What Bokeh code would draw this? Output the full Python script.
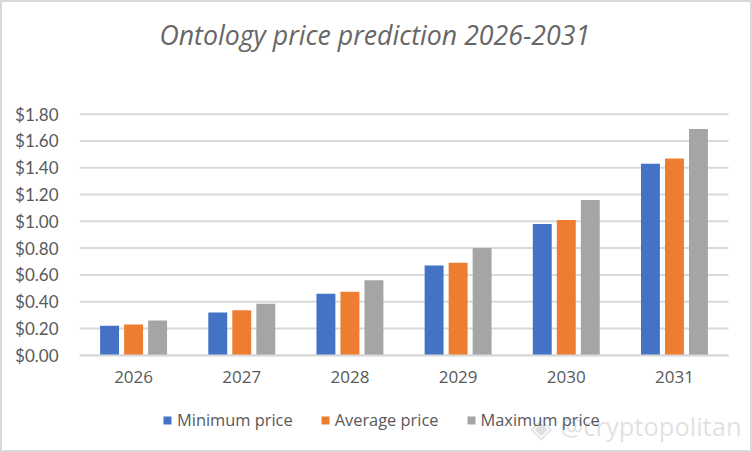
from bokeh.plotting import figure
from bokeh.models import Range1d, FixedTicker, NumeralTickFormatter, Legend, LegendItem, Label, LinearAxis
from bokeh.embed import file_html
from bokeh.resources import INLINE

years = ["2026", "2027", "2028", "2029", "2030", "2031"]
minimum_price = [0.22, 0.32, 0.46, 0.67, 0.98, 1.43]
average_price = [0.23, 0.335, 0.475, 0.69, 1.01, 1.47]
maximum_price = [0.26, 0.385, 0.56, 0.80, 1.16, 1.69]
y_ticks = [0.0, 0.2, 0.4, 0.6, 0.8, 1.0, 1.2, 1.4, 1.6, 1.8]
series_names = ["Minimum price", "Average price", "Maximum price"]
series_colors = ["#4472C4", "#ED7D31", "#A5A5A5"]
title_text = "Ontology price prediction 2026-2031"
watermark_text = "@cryptopolitan"

TEXT = "#595959"
LINE = "#D9D9D9"
positions = list(range(len(years)))

# The frame spans the chart area, so the title, legend and watermark can sit inside it.
p = figure(width=752, height=452, output_backend="svg", toolbar_location=None,
           x_range=Range1d(-0.5, 5.703), y_range=Range1d(-0.7115, 2.6343),
           x_axis_location=None,
           min_border_left=77, min_border_right=4, min_border_top=0, min_border_bottom=4,
           styles={"border": "2px solid #D9D9D9"})
p.outline_line_color = None
p.background_fill_color = "white"
p.border_fill_color = "white"
p.xgrid.visible = False
p.ygrid.visible = False

p.yaxis.ticker = FixedTicker(ticks=y_ticks)
p.yaxis.formatter = NumeralTickFormatter(format="$0.00")
p.yaxis.axis_line_color = None
p.yaxis.major_tick_line_color = None
p.yaxis.minor_tick_line_color = None
p.yaxis.major_tick_out = 0
p.yaxis.major_label_standoff = 21
p.yaxis.major_label_text_font = "Lato"
p.yaxis.major_label_text_font_size = "17px"
p.yaxis.major_label_text_color = TEXT

p.segment(x0=[-0.5] * len(y_ticks), x1=[5.5] * len(y_ticks), y0=y_ticks, y1=y_ticks,
          line_color=LINE, line_width=2)

xaxis = LinearAxis(fixed_location=0, ticker=FixedTicker(ticks=positions),
                   major_label_overrides=dict(zip(positions, years)),
                   bounds=(-0.5, 5.5), axis_line_color=LINE, axis_line_width=2,
                   major_tick_line_color=None, minor_tick_line_color=None, major_tick_out=0,
                   major_label_standoff=16, major_label_text_font="Open Sans",
                   major_label_text_font_size="17px", major_label_text_color=TEXT)
p.add_layout(xaxis, "below")

items = []
for values, off, name, color in zip((minimum_price, average_price, maximum_price),
                                    (-0.222, 0.0, 0.222), series_names, series_colors):
    r = p.vbar(x=[i + off for i in positions], top=values, width=0.175, bottom=0,
               fill_color=color, line_color=None)
    items.append(LegendItem(label=name, renderers=[r]))

legend = Legend(items=items, orientation="horizontal", location=(83, 19),
                glyph_width=10, glyph_height=10, label_standoff=5, spacing=27,
                label_text_font="Open Sans", label_text_font_size="16.4px", label_text_color=TEXT,
                border_line_color=None, background_fill_alpha=0, margin=0, padding=0,
                label_height=16)
p.add_layout(legend, "center")

p.add_layout(Label(x=80, y=416, x_units="screen", y_units="screen", text=title_text,
                   text_baseline="middle", text_font="Open Sans", text_font_style="italic",
                   text_font_size="26.7px", text_color="#666666"))
p.add_layout(Label(x=481, y=25, x_units="screen", y_units="screen", text=watermark_text,
                   text_baseline="middle", text_font="Open Sans", text_font_size="25.5px",
                   text_color="#D8D8D8", text_alpha=0.75))
p.add_layout(Label(x=451, y=23, x_units="screen", y_units="screen", text="\u25C8",
                   text_baseline="middle", text_font="DejaVu Sans", text_font_size="28px",
                   text_color="#D8D8D8", text_alpha=0.75))

open("out.html", "w").write(file_html(p, INLINE))
